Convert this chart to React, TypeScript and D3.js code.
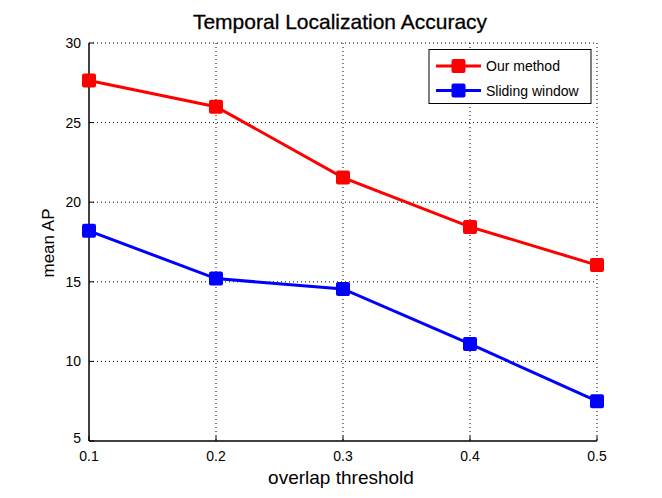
import React from "react";
import * as d3 from "d3";

const thresholds = [0.1, 0.2, 0.3, 0.4, 0.5];
const ourMethod = [27.65, 26.0, 21.55, 18.45, 16.05];
const slidingWindow = [18.2, 15.2, 14.55, 11.1, 7.5];
const xTicks = [0.1, 0.2, 0.3, 0.4, 0.5];
const yTicks = [5, 10, 15, 20, 25, 30];
const seriesNames = ["Our method", "Sliding window"];
const seriesColors = ["#ff0000", "#0000ff"];

export default function App() {
  const W = 662, H = 498;
  const left = 89, right = 597, top = 43, bottom = 441;
  const x = d3.scaleLinear().domain([0.1, 0.5]).range([left, right]);
  const y = d3.scaleLinear().domain([5, 30]).range([bottom, top]);
  const line = d3.line<number>().x((_, i) => x(thresholds[i])).y((d) => y(d));
  const series = [ourMethod, slidingWindow];
  const font = "Liberation Sans, Arial, sans-serif";
  const ms = 14;
  return (
    <svg width={W} height={H} style={{ position: "absolute", left: 0, top: 0, background: "#fff" }} fontFamily={font}>
      <rect width={W} height={H} fill="#fff" />
      {/* grid */}
      {xTicks.filter((t) => t > 0.1).map((t) => (
        <line key={"gx" + t} x1={x(t)} x2={x(t)} y1={top} y2={bottom} stroke="#000" strokeWidth={1} strokeDasharray="1,3" />
      ))}
      {yTicks.filter((t) => t > 5).map((t) => (
        <line key={"gy" + t} x1={left} x2={right} y1={y(t)} y2={y(t)} stroke="#000" strokeWidth={1} strokeDasharray="1,3" />
      ))}
      {/* axes */}
      <line x1={left} x2={left} y1={top} y2={bottom} stroke="#000" strokeWidth={1.5} />
      <line x1={left} x2={right} y1={bottom} y2={bottom} stroke="#000" strokeWidth={1.5} />
      {yTicks.map((t) => (
        <g key={"yt" + t}>
          <line x1={left} x2={left + 5} y1={y(t)} y2={y(t)} stroke="#000" strokeWidth={1} />
          <text x={left - 8} y={y(t) + (t === 5 ? 2 : 5)} textAnchor="end" fontSize={14}>{t}</text>
        </g>
      ))}
      {xTicks.map((t) => (
        <g key={"xt" + t}>
          <line x1={x(t)} x2={x(t)} y1={bottom} y2={bottom - 5} stroke="#000" strokeWidth={1} />
          <text x={x(t)} y={bottom + 20} textAnchor="middle" fontSize={14}>{t.toFixed(1)}</text>
        </g>
      ))}
      {/* series */}
      {series.map((s, si) => (
        <g key={"s" + si}>
          <path d={line(s) || ""} fill="none" stroke={seriesColors[si]} strokeWidth={3} />
          {s.map((v, i) => (
            <rect key={i} x={x(thresholds[i]) - ms / 2} y={y(v) - ms / 2} width={ms} height={ms} rx={2} fill={seriesColors[si]} />
          ))}
        </g>
      ))}
      {/* legend */}
      <rect x={429} y={49.5} width={162} height={54} fill="#fff" stroke="#000" strokeWidth={1} />
      {seriesNames.map((n, i) => {
        const ly = 66 + i * 24.5;
        return (
          <g key={n}>
            <line x1={436} x2={481} y1={ly} y2={ly} stroke={seriesColors[i]} strokeWidth={3} />
            <rect x={458.5 - ms / 2} y={ly - ms / 2} width={ms} height={ms} rx={2} fill={seriesColors[i]} />
            <text x={486} y={ly + 5} fontSize={14}>{n}</text>
          </g>
        );
      })}
      {/* titles */}
      <text x={340} y={29} textAnchor="middle" fontSize={21} stroke="#000" strokeWidth={0.3}>Temporal Localization Accuracy</text>
      <text x={341} y={484} textAnchor="middle" fontSize={19}>overlap threshold</text>
      <text transform={`translate(54,243) rotate(-90)`} textAnchor="middle" fontSize={17}>mean AP</text>
    </svg>
  );
}
